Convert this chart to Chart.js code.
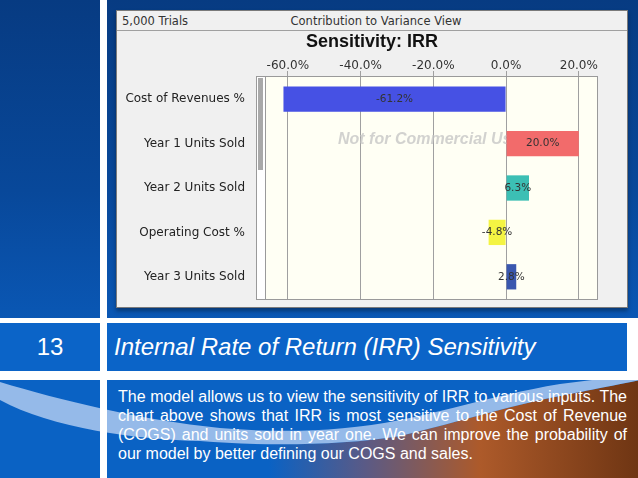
<!DOCTYPE html>
<html>
<head>
<meta charset="utf-8">
<script src="https://cdn.jsdelivr.net/npm/chart.js@4.4.1/dist/chart.umd.min.js"></script>
<style>
  html, body { margin: 0; padding: 0; }
  body { width: 638px; height: 478px; position: relative; overflow: hidden; background: #fff; font-family: "Liberation Sans", Arial, sans-serif; }
  .abs { position: absolute; }
  #topLeft { left: 0; top: 0; width: 100px; height: 318px; background: linear-gradient(180deg, #073b82 0%, #08489a 60%, #0a57b4 100%); }
  #topRight { left: 107px; top: 0; width: 531px; height: 318px; background: linear-gradient(180deg, #073b82 0%, #08489a 60%, #0a57b4 100%); }
  #win { left: 116px; top: 10px; width: 510px; height: 296px; background: #f0f0f0; border: 1px solid #7a7a7a; box-shadow: 0 3px 4px rgba(0,0,0,0.35); }
  #winHead { left: 0; top: 0; width: 510px; height: 19px; border-bottom: 1px solid #a0a0a0; font-family: "DejaVu Sans", Verdana, sans-serif; font-size: 11.5px; color: #333; }
  #trials { left: 5px; top: 3px; }
  #view { left: 0; width: 518px; top: 3px; text-align: center; }
  #chartBox { left: -1px; top: 19px; }
  #band13 { left: 0; top: 323px; width: 100px; height: 48px; background: #0b64c8; color: #fff; font-size: 24px; line-height: 48px; text-align: center; }
  #bandTitle { left: 107px; top: 323px; width: 520px; height: 48px; background: #0b64c8; color: #fff; font-size: 24px; font-style: italic; line-height: 48px; }
  #bandTitle span { margin-left: 7px; }
  #bodyBg { left: 0; top: 380px; }
  #sep { left: 100px; top: 0; width: 7px; height: 478px; background: #fff; }
  #text { left: 118px; top: 387px; width: 509px; color: #fff; font-size: 16px; line-height: 19px; }
  #text div { white-space: nowrap; text-align: justify; text-align-last: justify; }
  #text div.last { text-align-last: left; }
</style>
</head>
<body>
<div id="topLeft" class="abs"></div>
<div id="topRight" class="abs"></div>

<svg id="bodyBg" class="abs" width="638" height="98" viewBox="0 0 638 98">
  <defs>
    <linearGradient id="brown" x1="0" y1="0" x2="1" y2="0">
      <stop offset="0" stop-color="#0a62c4"/>
      <stop offset="0.42" stop-color="#0a62c4"/>
      <stop offset="0.57" stop-color="#5a5a86"/>
      <stop offset="0.75" stop-color="#ad5a2a"/>
      <stop offset="1" stop-color="#6e3513"/>
    </linearGradient>
  </defs>
  <rect x="0" y="0" width="638" height="98" fill="#0a62c4"/>
  <path d="M0,20 C50,48 140,60 200,61 C260,66 340,66 400,56 C460,42 500,28 560,16 C580,12 600,8 640,0 L640,98 L0,98 Z" fill="url(#brown)"/>
  <path d="M0,2 C60,20 140,40 220,48 C280,53 340,52 400,40 C450,30 500,14 560,4 L640,-6 L640,0 C600,8 580,12 560,16 C500,28 460,42 400,56 C340,66 260,66 200,61 C140,60 50,48 0,20 Z" fill="#a9c6ee" opacity="0.88"/>
</svg>

<div id="sep" class="abs"></div>

<div id="win" class="abs">
  <div id="winHead" class="abs">
    <span id="trials" class="abs">5,000 Trials</span>
    <span id="view" class="abs">Contribution to Variance View</span>
  </div>
  <div id="chartBox" class="abs">
    <canvas id="chart" width="512" height="278"></canvas>
  </div>
</div>

<div id="band13" class="abs">13</div>
<div id="bandTitle" class="abs"><span>Internal Rate of Return (IRR) Sensitivity</span></div>

<div id="text" class="abs">
  <div>The model allows us to view the sensitivity of IRR to various inputs. The</div>
  <div>chart above shows that IRR is most sensitive to the Cost of Revenue</div>
  <div>(COGS) and units sold in year one. We can improve the probability of</div>
  <div class="last">our model by better defining our COGS and sales.</div>
</div>

<script>
// data
const categories = ['Cost of Revenues %', 'Year 1 Units Sold', 'Year 2 Units Sold', 'Operating Cost %', 'Year 3 Units Sold'];
const contributions = [-61.2, 20.0, 6.3, -4.8, 2.8];
const tickValues = [-60, -40, -20, 0, 20];

const barColors = ['#4651e4', '#f26b6b', '#3cbfb4', '#f4f443', '#3a57ae'];

// plot background, scroll bar and frame like the Crystal Ball window
const framePlugin = {
    id: 'frame',
    beforeDraw(chart) {
        const a = chart.chartArea;
        const ctx = chart.ctx;
        ctx.save();
        ctx.fillStyle = '#fffff4';
        ctx.fillRect(a.left, a.top, a.right - a.left, a.bottom - a.top);
        ctx.fillStyle = '#ffffff';
        ctx.fillRect(a.left - 9, a.top, 9, a.bottom - a.top);
        ctx.fillStyle = '#a9a9a9';
        ctx.fillRect(a.left - 8, a.top + 1, 5, 92);
        ctx.restore();
    },
    beforeDatasetsDraw(chart) {
        const a = chart.chartArea;
        const ctx = chart.ctx;
        ctx.save();
        ctx.font = 'italic bold 16px "Liberation Sans", Arial, sans-serif';
        ctx.fillStyle = 'rgba(195,195,195,0.75)';
        ctx.textBaseline = 'middle';
        ctx.fillText('Not for Commercial Use', a.left + 72, a.top + 63);
        ctx.restore();
    },
    afterDatasetsDraw(chart) {
        const ctx = chart.ctx;
        ctx.save();
        ctx.font = '10.5px "DejaVu Sans", Verdana, sans-serif';
        ctx.fillStyle = '#333';
        ctx.textAlign = 'center';
        ctx.textBaseline = 'middle';
        chart.getDatasetMeta(0).data.forEach(function(bar, i) {
            ctx.fillText(contributions[i].toFixed(1) + '%', (bar.x + bar.base) / 2, bar.y);
        });
        ctx.restore();
    },
    afterDraw(chart) {
        const a = chart.chartArea;
        const ctx = chart.ctx;
        ctx.save();
        ctx.strokeStyle = '#9a9a9a';
        ctx.lineWidth = 1;
        ctx.strokeRect(a.left - 9.5, a.top - 0.5, a.right - a.left + 10, a.bottom - a.top + 1);
        ctx.beginPath();
        ctx.moveTo(a.left - 0.5, a.top);
        ctx.lineTo(a.left - 0.5, a.bottom);
        ctx.stroke();
        ctx.restore();
    }
};

const ctx = document.getElementById('chart').getContext('2d');
new Chart(ctx, {
    type: 'bar',
    data: {
        labels: categories,
        datasets: [{
            data: contributions,
            backgroundColor: barColors,
            borderWidth: 0,
            barPercentage: 0.57,
            categoryPercentage: 1
        }]
    },
    options: {
        indexAxis: 'y',
        responsive: false,
        animation: false,
        layout: { padding: { left: 0, right: 0, top: 1, bottom: 9 } },
        plugins: {
            legend: { display: false },
            tooltip: { enabled: false },
            title: {
                display: true,
                text: 'Sensitivity: IRR',
                color: '#111',
                font: { family: '"Liberation Sans", Arial, sans-serif', size: 18, weight: 'bold' },
                padding: { top: 0, bottom: 3 }
            }
        },
        scales: {
            x: {
                type: 'linear',
                position: 'top',
                min: -66,
                max: 25,
                afterBuildTicks: function(scale) {
                    scale.ticks = tickValues.map(v => ({ value: v }));
                },
                afterFit: function(scale) {
                    scale.height = 21.4;
                    scale.paddingLeft = 0;
                    scale.paddingRight = 0;
                },
                ticks: {
                    padding: -2,
                    color: '#333',
                    font: { family: '"DejaVu Sans", Verdana, sans-serif', size: 12 },
                    callback: v => v.toFixed(1) + '%'
                },
                grid: { color: '#a0a0a0', lineWidth: 1, tickLength: 6 },
                border: { display: false }
            },
            y: {
                type: 'category',
                afterFit: function(scale) {
                    scale.width = 150;
                    scale.paddingTop = 0;
                    scale.paddingBottom = 0;
                },
                ticks: {
                    padding: 21,
                    color: '#222',
                    font: { family: '"DejaVu Sans", Verdana, sans-serif', size: 12 }
                },
                grid: { display: false, drawTicks: false },
                border: { display: false }
            },
            // empty right-hand box that keeps the window margin on the right
            yRight: {
                type: 'category',
                position: 'right',
                afterFit: function(scale) {
                    scale.width = 31;
                    scale.paddingTop = 0;
                    scale.paddingBottom = 0;
                },
                ticks: { display: false },
                grid: { display: false, drawTicks: false },
                border: { display: false }
            }
        }
    },
    plugins: [framePlugin]
});
</script>
</body>
</html>
